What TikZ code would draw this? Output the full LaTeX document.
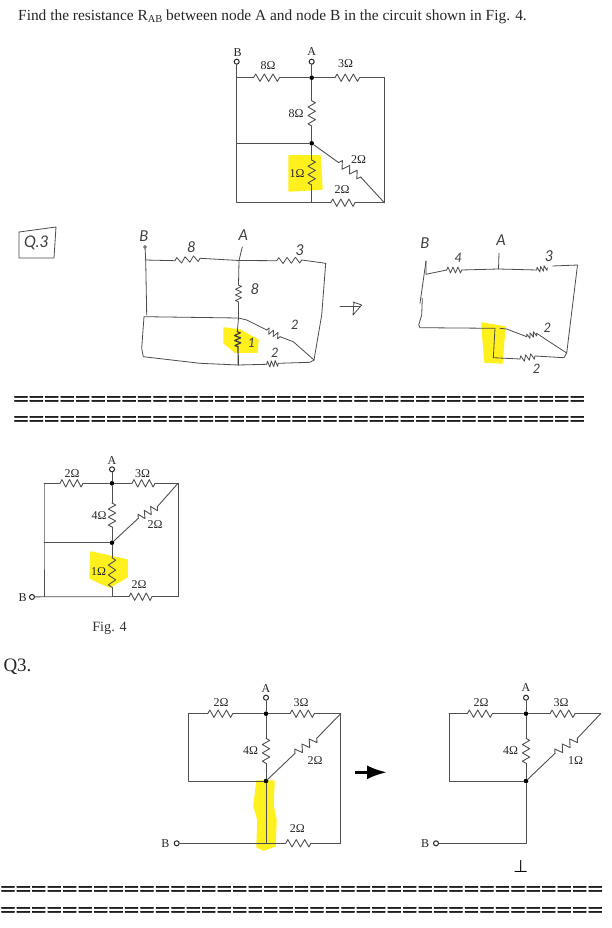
\documentclass[tikz,border=0pt]{standalone}
\usepackage{fontspec}
\setmainfont{Liberation Serif}
\newfontfamily\handf{Lato}
\newfontfamily\symf{DejaVu Sans}
\newfontfamily\eqf{Liberation Serif}[FakeStretch=1.37,FakeBold=2.8]
\usetikzlibrary{calc,arrows.meta}
\definecolor{wire}{HTML}{505050}
\definecolor{hl}{HTML}{FFF01E}
\definecolor{pen}{HTML}{4C4C4C}
\tikzset{
  wirep/.style={draw=wire,line width=0.9pt,line cap=round,line join=round},
  penp/.style={draw=pen,line width=0.8pt,line cap=round,line join=round},
  penthick/.style={draw=pen!80!black,line width=1.2pt,line cap=round,line join=round},
  lab/.style={inner sep=0pt,text=black!85,font=\fontsize{12}{12}\selectfont},
  hand/.style={inner sep=0pt,text=black!75,font=\handf\itshape\fontsize{13}{13}\selectfont},
  dotj/.style={circle,fill=black,inner sep=0pt,minimum size=4.6pt},
  term/.style={circle,draw=black!85,fill=white,line width=1pt,inner sep=0pt,minimum size=5pt},
  glow/.style={fill=hl,draw=hl,line join=round,line width=1.5pt},
  eqrow/.style={inner sep=0pt,anchor=west,text=black,font=\eqf\fontsize{20}{20}\selectfont}
}
% #1 style, #2 amplitude, #3,#4 end points in parentheses: a zigzag of three peaks
\newcommand{\Zg}[4]{\draw[#1] #3
  -- ($#3!0.0833!#4!#2!90:#4$) -- ($#3!0.25!#4!#2!-90:#4$)
  -- ($#3!0.4167!#4!#2!90:#4$) -- ($#3!0.5833!#4!#2!-90:#4$)
  -- ($#3!0.75!#4!#2!90:#4$) -- ($#3!0.9167!#4!#2!-90:#4$) -- #4;}
\newcommand{\Rr}[4]{\draw[wirep] (#1) -- #2; \Zg{wirep}{3.7pt}{#2}{#3} \draw[wirep] #3 -- (#4);}
\def\eqA{=====================================}
\def\eqB{=======================================}
\def\Om{Ω}
\begin{document}
\begin{tikzpicture}[x=1pt,y=-1pt]
\useasboundingbox (0,0) rectangle (612,928);
\fill[white] (0,0) rectangle (612,928);

% highlights
\fill[glow] (289,156) -- (320,156) -- (322,189) -- (289,191) -- cycle;
\fill[glow] (224,328) -- (240,330) -- (258,340) -- (257,352) -- (235,352) -- (224,343) -- cycle;
\fill[glow] (482,323) -- (505,327) -- (503,350) -- (502,363) -- (485,362) -- (483,338) -- cycle;
\fill[glow] (91,552) -- (127,560) -- (127,577) -- (110,587) -- (98,582) -- (90,578) -- cycle;
\fill[glow] (257,781) -- (274,781) -- (273,806) -- (276,820) -- (275,846) -- (264,850) -- (257,847) -- (258,820) -- (254,806) -- cycle;

% title
\node[anchor=west,inner sep=0pt,text=black!85,font=\fontsize{15.4}{17}\selectfont] (title) at (18,17) {Find the resistance R\raisebox{-0.2ex}{\fontsize{10.5}{11}\selectfont AB} between node A and node B in the circuit shown in Fig. 4.};

% ---- circuit 1
\coordinate (c1tl) at (236.7,77.7);
\coordinate (c1tr) at (384.3,77.7);
\coordinate (c1ml) at (236.7,143.3);
\coordinate (c1bl) at (236.7,202.7);
\coordinate (c1bm) at (311.7,202.7);
\coordinate (c1br) at (384.3,202.7);
\node[dotj] (c1a) at (311.7,77.7) {};
\node[dotj] (c1m) at (311.7,143.3) {};
\node[term] (c1tA) at (311.7,61.7) {};
\node[term] (c1tB) at (236.7,61.7) {};
\draw[wirep] (c1tB) -- (c1tl) -- (c1ml) -- (c1bl) -- (c1bm);
\draw[wirep] (c1tA) -- (c1a);
\draw[wirep] (c1ml) -- (c1m);
\draw[wirep] (c1tr) -- (c1br);
\Rr{c1tl}{(253.5,77.7)}{(279.5,77.7)}{c1a}
\Rr{c1a}{(335,77.7)}{(359.5,77.7)}{c1tr}
\Rr{c1a}{(311.7,100.7)}{(311.7,126)}{c1m}
\Rr{c1m}{(311.7,160)}{(311.7,185)}{c1bm}
\Rr{c1bm}{(330.7,202.7)}{(355,202.7)}{c1br}
\Rr{c1m}{(338.5,162.5)}{(360.7,177)}{c1br}
\node[lab] (t1) at (237.5,53) {B};
\node[lab] (t2) at (311.7,52) {A};
\node[lab] (t3) at (268,66) {8\Om};
\node[lab] (t4) at (345.5,64) {3\Om};
\node[lab] (t5) at (296,114) {8\Om};
\node[lab] (t6) at (297,174) {1\Om};
\node[lab] (t7) at (358.5,159.5) {2\Om};
\node[lab] (t8) at (342,190) {2\Om};

% ---- hand sketch 1
\draw[penp] (19,232) -- (56,227) -- (54,258) -- (19,258) -- cycle;
\node[hand] (h0) at (36.5,243) {\fontsize{16}{16}\selectfont Q.3};
\node[hand] (h1) at (144,236.5) {\fontsize{15}{15}\selectfont B};
\node[hand] (h2) at (243.3,235) {\fontsize{15}{15}\selectfont A};
\node[hand] (h3) at (191.5,247) {\fontsize{15}{15}\selectfont 8};
\node[hand] (h4) at (300,250) {\fontsize{15}{15}\selectfont 3};
\node[hand] (h5) at (255,289) {\fontsize{15}{15}\selectfont 8};
\node[hand] (h6) at (251.7,343) {1};
\node[hand] (h7) at (295,325) {2};
\node[hand] (h8) at (275,353) {2};
\node[circle,draw=pen,line width=0.7pt,inner sep=0pt,minimum size=2.6pt] (hB) at (145,247) {};
\coordinate (hA) at (239,260.5);
\coordinate (hTL) at (145,260);
\coordinate (hTR) at (325.7,263.3);
\coordinate (hMR) at (314,360);
\coordinate (hML) at (144,316.7);
\coordinate (hM) at (238.5,318);
\draw[penp] (hB) -- (145.7,260) -- (146.7,315);
\draw[penp] (hTL) -- (175,260.7);
\Zg{penp}{3pt}{(175,260.7)}{(200,258.3)}
\draw[penp] (200,258.3) -- (hA) -- (276.7,260.7);
\Zg{penp}{3pt}{(276.7,260.7)}{(301.7,260)}
\draw[penp] (301.7,260) -- (hTR) -- (321.7,315) -- (hMR);
\draw[penp] (242.3,247) -- (hA) -- (238.5,285);
\Zg{penp}{3pt}{(238.5,285)}{(238.5,302)}
\draw[penp] (238.5,302) -- (hM) -- (237.3,331.7);
\Zg{penthick}{3pt}{(237.3,331.7)}{(238,346.7)}
\draw[penthick] (238,346.7) -- (238.3,365);
\draw[penp] (hML) -- (hM);
\draw[penp] (hM) -- (246.7,320) -- (266.7,330);
\Zg{penp}{3pt}{(266.7,330)}{(280,336.7)}
\draw[penp] (280,336.7) -- (293.3,341.7) -- (hMR);
\draw[penp] (hML) -- (141.7,348.3) -- (143.3,356.7) -- (200,363.3) -- (238.3,365) -- (266.7,364.3);
\Zg{penp}{3pt}{(266.7,364.3)}{(278.3,363.3)}
\draw[penp] (278.3,363.3) -- (310,362.3) -- (hMR);

% hand arrow
\coordinate (ar1) at (340,306);
\coordinate (ar2) at (360,306);
\draw[penp] (ar1) -- (ar2);
\draw[penp] (353,302) -- (361.7,305) -- (353,315) -- (354,302);

% ---- hand sketch 2
\node[hand] (k1) at (425,243.3) {\fontsize{15}{15}\selectfont B};
\node[hand] (k2) at (501,240) {\fontsize{15}{15}\selectfont A};
\node[hand] (k3) at (458.3,257.7) {4};
\node[hand] (k4) at (549.3,256) {\fontsize{15}{15}\selectfont 3};
\node[hand] (k5) at (547.3,327.5) {2};
\node[hand] (k6) at (536.7,369) {2};
\coordinate (kA) at (498.5,269);
\coordinate (kBt) at (426,261);
\coordinate (kTR) at (577.5,265);
\coordinate (kBR) at (566.7,353);
\coordinate (kM) at (495,328.3);
\coordinate (kMb) at (493.3,357.7);
\draw[penp] (kBt) -- (426,274.3) -- (446.7,270);
\Zg{penp}{3pt}{(446.7,270)}{(461.7,270)}
\draw[penp] (461.7,270) -- (kA);
\draw[penp] (499,253.3) -- (kA) -- (536.7,270);
\Zg{penp}{2.6pt}{(536.7,270)}{(547.3,267.7)}
\draw[penp] (552.7,266) -- (kTR) -- (kBR);
\draw[penp] (kBt) -- (420,303.3);
\draw[penp] (422.3,298.3) -- (421.7,315) -- (418.7,325) -- (420,327.7) -- (kM) -- (kMb);
\draw[penp] (kMb) -- (520,359);
\Zg{penp}{3pt}{(520,359)}{(535,356)}
\draw[penp] (535,356) -- (564,357.7) -- (kBR);
\draw[penp] (500,328.3) -- (506.7,329) -- (526.7,336.7);
\Zg{penp}{2.6pt}{(526.7,336.7)}{(536.7,333.3)}
\draw[penp] (536.7,333.3) -- (546.7,340) -- (kBR);

% separators
\node[eqrow] (e1) at (13,401) {\eqA};
\node[eqrow] (e2) at (13,421) {\eqA};

% ---- Fig. 4
\coordinate (f1tl) at (44,483.3);
\coordinate (f1tr) at (178,483.3);
\coordinate (f1ml) at (44,542.7);
\coordinate (f1bl) at (44,596.7);
\coordinate (f1bm) at (112,596.7);
\coordinate (f1br) at (178,596.7);
\node[dotj] (f1a) at (112,483.3) {};
\node[dotj] (f1m) at (112,542.7) {};
\node[term] (f1tA) at (112,469.3) {};
\node[term] (f1tB) at (32,597) {};
\draw[wirep] (f1tA) -- (f1a);
\draw[wirep] (f1tl) -- (f1ml) -- (f1bl);
\draw[wirep] (f1ml) -- (f1m);
\draw[wirep] (f1tB) -- (f1bl) -- (f1bm);
\draw[wirep] (f1tr) -- (f1br);
\Rr{f1tl}{(60,483.3)}{(83,483.3)}{f1a}
\Rr{f1a}{(132,483.3)}{(155,483.3)}{f1tr}
\Rr{f1a}{(112,503)}{(112,527)}{f1m}
\Rr{f1m}{(112,557.7)}{(112,587.3)}{f1bm}
\Rr{f1bm}{(129,596.7)}{(152,596.7)}{f1br}
\Rr{f1m}{(138.3,518.3)}{(157.3,506.7)}{f1tr}
\node[lab] (f1) at (112,460.7) {A};
\node[lab] (f2) at (72,473.3) {2\Om};
\node[lab] (f3) at (142.7,473.3) {3\Om};
\node[lab] (f4) at (99,516) {4\Om};
\node[lab] (f5) at (155,525) {2\Om};
\node[lab] (f6) at (98.7,571.7) {1\Om};
\node[lab] (f7) at (139,584.3) {2\Om};
\node[lab] (f8) at (22.7,597.7) {B};
\node[inner sep=0pt,text=black!80,font=\fontsize{14.2}{14.2}\selectfont] (fig) at (109.5,628.5) {Fig. 4};
\node[inner sep=0pt,text=black!85,font=\fontsize{19}{19}\selectfont] (q3) at (17.5,667) {Q3.};

% ---- circuit 3
\coordinate (g1tl) at (188.3,713.7);
\coordinate (g1tr) at (340.7,713.7);
\coordinate (g1ml) at (188.3,781);
\coordinate (g1bm) at (266,843.3);
\coordinate (g1br) at (340.7,843.3);
\node[dotj] (g1a) at (266,713.7) {};
\node[dotj] (g1m) at (266,781) {};
\node[term] (g1tA) at (266,697.7) {};
\node[term] (g1tB) at (176.7,843.3) {};
\draw[wirep] (g1tA) -- (g1a);
\draw[wirep] (g1tl) -- (g1ml) -- (g1m) -- (g1bm);
\draw[wirep] (g1tB) -- (g1bm);
\draw[wirep] (g1tr) -- (g1br);
\Rr{g1tl}{(207.7,713.7)}{(232.7,713.7)}{g1a}
\Rr{g1a}{(290,713.7)}{(314.3,713.7)}{g1tr}
\Rr{g1a}{(266,738.3)}{(266,763.3)}{g1m}
\Rr{g1bm}{(285.7,843.3)}{(311,843.3)}{g1br}
\Rr{g1m}{(295,753.3)}{(316.7,738.3)}{g1tr}
\node[lab] (g1) at (266,688.3) {A};
\node[lab] (g2) at (221,702.3) {2\Om};
\node[lab] (g3) at (301,703) {3\Om};
\node[lab] (g4) at (250.7,751) {4\Om};
\node[lab] (g5) at (315,760.7) {2\Om};
\node[lab] (g6) at (297.3,829) {2\Om};
\node[lab] (g7) at (165.3,843.3) {B};

% big arrow
\coordinate (b1) at (355,772.3);
\coordinate (b2) at (387,772.3);
\draw[line width=3pt,draw=black,-{Latex[length=20pt,width=14pt]}] (b1) -- (b2);

% ---- circuit 4
\coordinate (d1tl) at (449,713.7);
\coordinate (d1tr) at (600.7,713.7);
\coordinate (d1ml) at (449,781);
\coordinate (d1bm) at (526,843.3);
\node[dotj] (d1a) at (526,713.7) {};
\node[dotj] (d1m) at (526,781) {};
\node[term] (d1tA) at (526,697.7) {};
\node[term] (d1tB) at (436,843.3) {};
\draw[wirep] (d1tA) -- (d1a);
\draw[wirep] (d1tl) -- (d1ml) -- (d1m) -- (d1bm) -- (d1tB);
\Rr{d1tl}{(467.3,713.7)}{(492.3,713.7)}{d1a}
\Rr{d1a}{(550,713.7)}{(575,713.7)}{d1tr}
\Rr{d1a}{(526,738.3)}{(526,763.3)}{d1m}
\Rr{d1m}{(555,753.3)}{(577.3,738.3)}{d1tr}
\node[lab] (d1) at (526,687.7) {A};
\node[lab] (d2) at (481,702.3) {2\Om};
\node[lab] (d3) at (561,703) {3\Om};
\node[lab] (d4) at (510.7,751) {4\Om};
\node[lab] (d5) at (575.7,760.7) {1\Om};
\node[lab] (d6) at (425,843.3) {B};
\node[inner sep=0pt,text=black,font=\symf\fontsize{17}{17}\selectfont] (d7) at (520.7,866.5) {⊥};

\node[eqrow] (e3) at (0,891) {\eqB};
\node[eqrow] (e4) at (0,912) {\eqB};
\end{tikzpicture}
\end{document}
